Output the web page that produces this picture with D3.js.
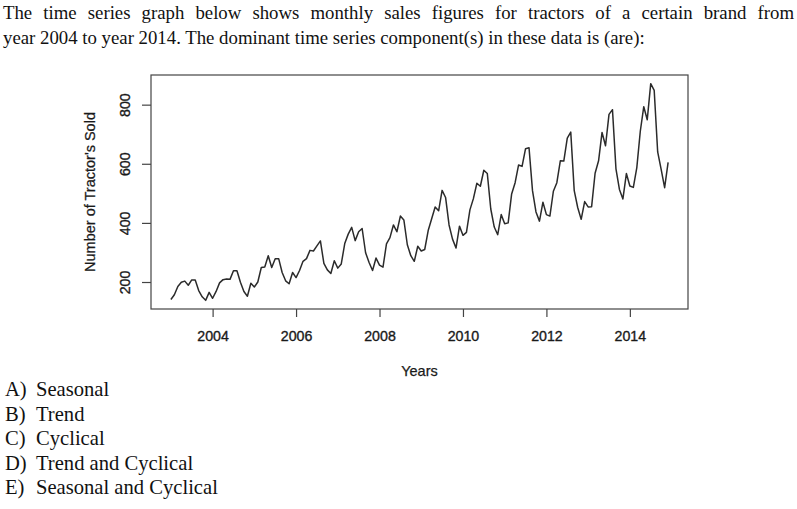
<!DOCTYPE html>
<html>
<head>
<meta charset="utf-8">
<script src="https://cdn.jsdelivr.net/npm/d3@7"></script>
<style>
  body { margin: 0; background: #fff; }
  svg { display: block; }
  .question { font-family: "Liberation Serif", "Times New Roman", serif; font-size: 18.8px; fill: #111; }
  .option { font-family: "Liberation Serif", "Times New Roman", serif; font-size: 20.6px; fill: #111; }
  .tick-label { font-family: "Liberation Sans", Arial, sans-serif; font-size: 14.2px; fill: #1a1a1a; stroke: #1a1a1a; stroke-width: 0.35px; }
  .axis-title { font-family: "Liberation Sans", Arial, sans-serif; font-size: 14.5px; fill: #1a1a1a; stroke: #1a1a1a; stroke-width: 0.25px; }
</style>
</head>
<body>
<div id="chart"></div>
<script>
// Monthly tractor sales, Jan 2003 .. Dec 2014.
const startYear = 2003;
const monthlySales = [
  141, 157, 185, 199, 203, 189, 207, 207, 171, 150, 138, 165,
  145, 168, 197, 208, 210, 209, 238, 238, 199, 168, 152, 196,
  183, 200, 249, 251, 289, 249, 279, 279, 232, 204, 194, 232,
  215, 239, 270, 279, 307, 305, 322, 339, 263, 241, 229, 272,
  247, 261, 330, 362, 385, 340, 370, 381, 299, 266, 239, 281,
  257, 250, 329, 350, 393, 370, 423, 410, 326, 289, 270, 321,
  305, 310, 374, 414, 454, 441, 510, 486, 393, 345, 315, 389,
  358, 368, 444, 482, 534, 524, 578, 567, 447, 386, 360, 428,
  397, 400, 498, 536, 596, 591, 651, 654, 509, 437, 406, 470,
  428, 423, 507, 536, 610, 609, 687, 707, 509, 452, 412, 472,
  454, 455, 568, 610, 706, 661, 767, 783, 583, 513, 481, 567,
  525, 520, 587, 710, 793, 749, 871, 848, 640, 581, 519, 605
];
const yearTicks = [2004, 2006, 2008, 2010, 2012, 2014];
const salesTicks = [200, 400, 600, 800];

const questionLines = [
  "The time series graph below shows monthly sales figures for tractors of a certain brand from",
  "year 2004 to year 2014. The dominant time series component(s) in these data is (are):"
];
const optionLetters = ["A)", "B)", "C)", "D)", "E)"];
const optionTexts = ["Seasonal", "Trend", "Cyclical", "Trend and Cyclical", "Seasonal and Cyclical"];

const width = 797;
const height = 509;
const plot = { left: 151, right: 688, top: 75, bottom: 309 };

const svg = d3.select("#chart")
  .append("svg")
  .attr("width", width)
  .attr("height", height);

// Question text above the plot; the first line is justified to the full width
const qText = svg.selectAll(".q-line")
  .data(questionLines)
  .join("text")
  .attr("class", "question")
  .attr("x", 3)
  .attr("y", (d, i) => 19 + i * 24.5)
  .text(d => d);

qText.filter((d, i) => i === 0).each(function(d) {
  const natural = this.getComputedTextLength();
  const gaps = d.split(" ").length - 1;
  d3.select(this).attr("word-spacing", (791 - natural) / gaps);
});

const series = monthlySales.map((v, i) => ({ t: startYear + i / 12, v }));

// R pads the data range by 4% on each side
const pad = ([a, b]) => [a - (b - a) * 0.04, b + (b - a) * 0.04];

const x = d3.scaleLinear()
  .domain(pad(d3.extent(series, d => d.t)))
  .range([plot.left, plot.right]);

const y = d3.scaleLinear()
  .domain(pad(d3.extent(series, d => d.v)))
  .range([plot.bottom, plot.top]);

const xAxis = svg.append("g")
  .attr("transform", `translate(0, ${plot.bottom})`)
  .call(d3.axisBottom(x).tickValues(yearTicks).tickFormat(d3.format("d")).tickSize(8).tickPadding(14));
xAxis.select(".domain").remove();
xAxis.selectAll("line").attr("stroke", "#444").attr("stroke-width", 1.2);
xAxis.selectAll("text").attr("class", "tick-label").attr("font-size", null).attr("font-family", null).attr("fill", null);

const yAxis = svg.append("g")
  .attr("transform", `translate(${plot.left}, 0)`)
  .call(d3.axisLeft(y).tickValues(salesTicks).tickSize(9).tickFormat(d3.format("d")));
yAxis.select(".domain").remove();
yAxis.selectAll("line").attr("stroke", "#444").attr("stroke-width", 1.2);
yAxis.selectAll("text")
  .attr("class", "tick-label")
  .attr("font-size", null).attr("font-family", null).attr("fill", null)
  .attr("x", null)
  .attr("text-anchor", "middle")
  .attr("transform", "translate(-26, 0) rotate(-90)")
  .attr("y", 0)
  .attr("dy", "0.36em");

// plot frame
svg.append("rect")
  .attr("x", plot.left)
  .attr("y", plot.top)
  .attr("width", plot.right - plot.left)
  .attr("height", plot.bottom - plot.top)
  .attr("fill", "none")
  .attr("stroke", "#444")
  .attr("stroke-width", 1.2);

svg.append("path")
  .datum(series)
  .attr("fill", "none")
  .attr("stroke", "#2b2b2b")
  .attr("stroke-width", 1.5)
  .attr("stroke-linejoin", "round")
  .attr("d", d3.line().x(d => x(d.t)).y(d => y(d.v)));

svg.append("text")
  .attr("class", "axis-title")
  .attr("x", (plot.left + plot.right) / 2)
  .attr("y", 376)
  .attr("text-anchor", "middle")
  .text("Years");

svg.append("text")
  .attr("class", "axis-title")
  .attr("text-anchor", "middle")
  .attr("transform", `translate(95, ${(plot.top + plot.bottom) / 2}) rotate(-90)`)
  .text("Number of Tractor's Sold");

// answer options
const options = svg.selectAll(".opt")
  .data(optionTexts)
  .join("g")
  .attr("transform", (d, i) => `translate(5, ${396 + i * 24.6})`);

options.append("text")
  .attr("class", "option")
  .text((d, i) => optionLetters[i]);

options.append("text")
  .attr("class", "option")
  .attr("x", 31)
  .text(d => d);
</script>
</body>
</html>
